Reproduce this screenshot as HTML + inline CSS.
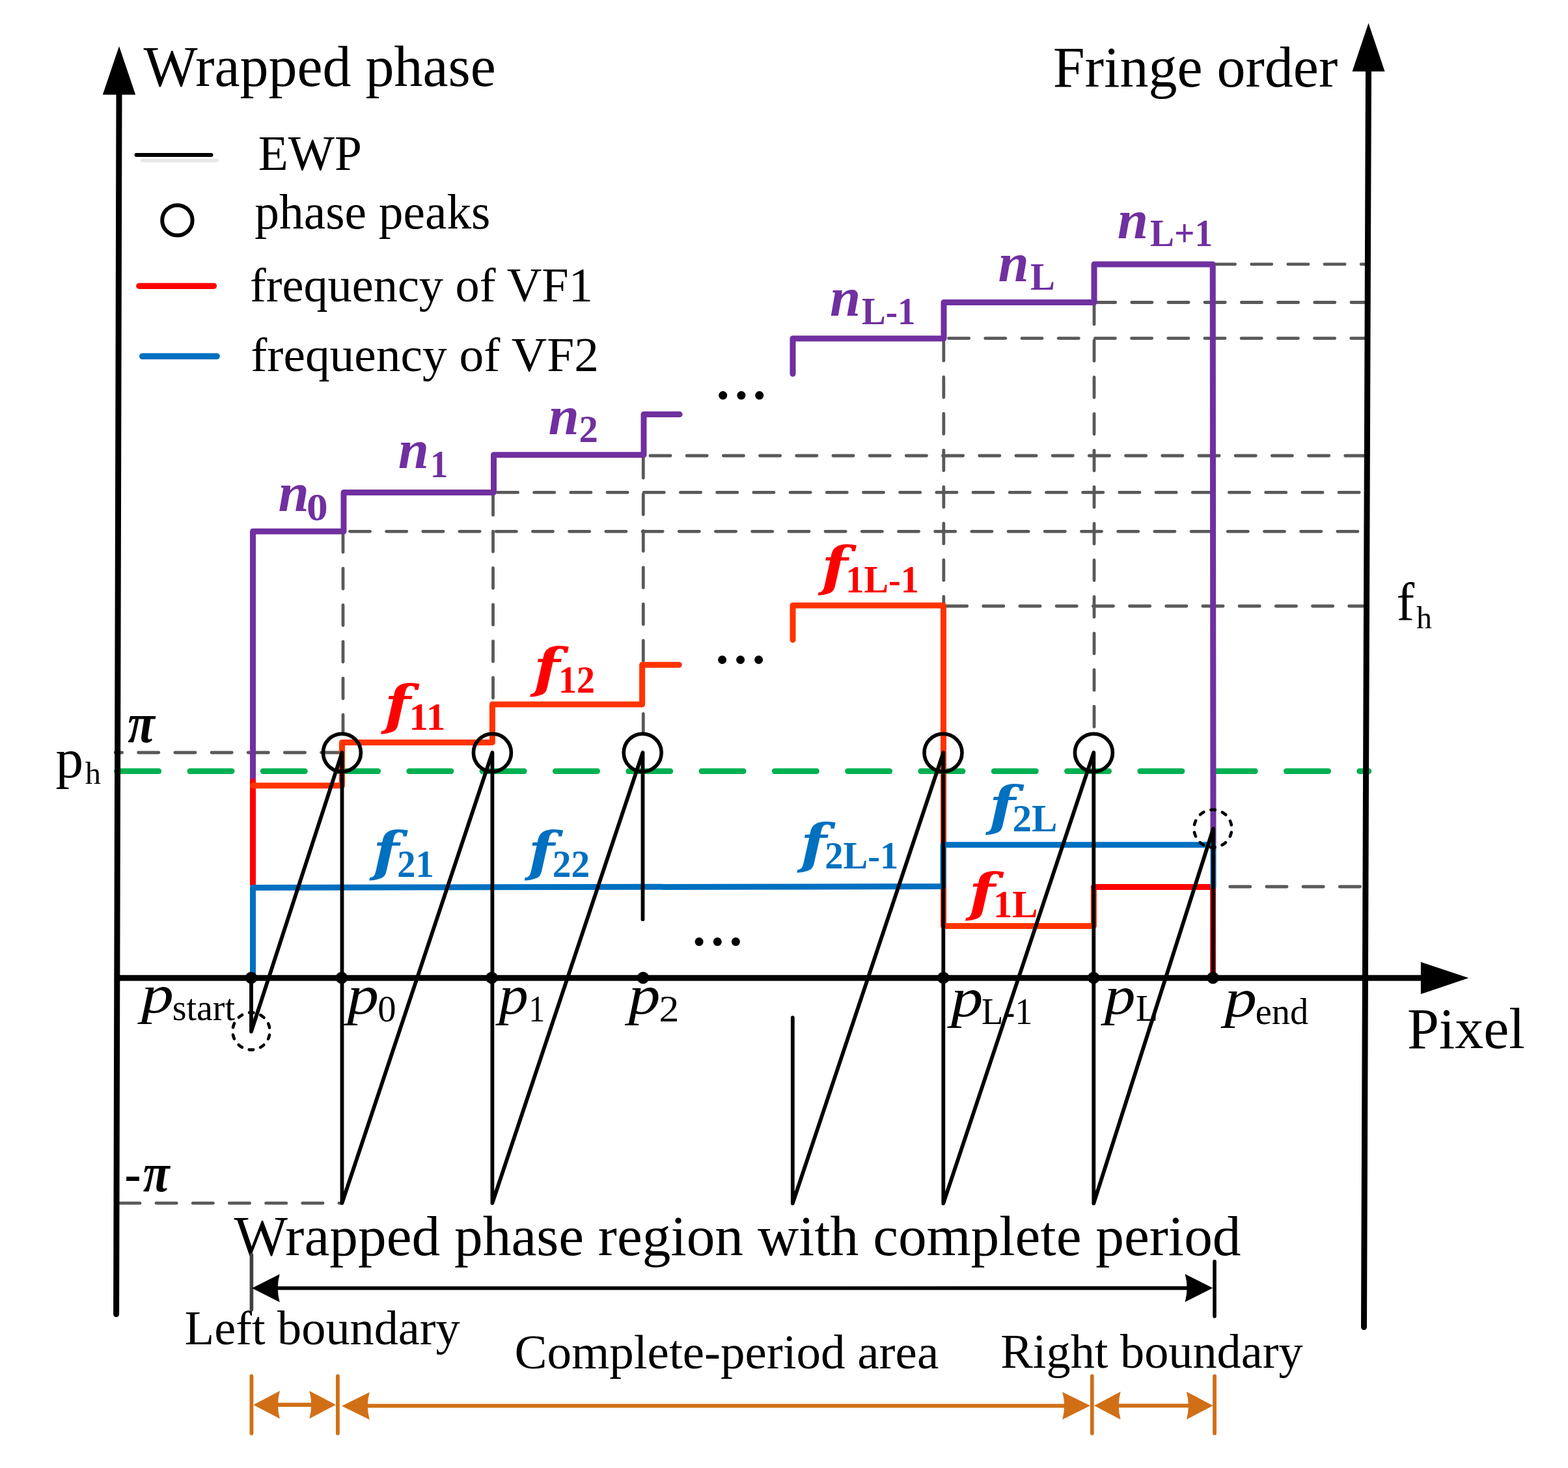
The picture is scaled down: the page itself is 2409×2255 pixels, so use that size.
<!DOCTYPE html>
<html><head><meta charset="utf-8"><title>Wrapped phase diagram</title>
<style>html,body{margin:0;padding:0;background:#fff;overflow:hidden;}svg{display:block;}</style></head>
<body><svg width="2409" height="2255" viewBox="0 0 2409 2255">
<rect width="2409" height="2255" fill="#fff"/>
<line x1="1866.4" y1="405.8" x2="2097.0" y2="405.8" stroke="#595959" stroke-width="4.8" stroke-linecap="round" stroke-dasharray="31.2 25"/>
<line x1="1682.5" y1="464.5" x2="2097.0" y2="464.5" stroke="#595959" stroke-width="4.8" stroke-linecap="round" stroke-dasharray="31.2 25"/>
<line x1="1457.5" y1="519.6" x2="2097.0" y2="519.6" stroke="#595959" stroke-width="4.8" stroke-linecap="round" stroke-dasharray="31.2 25"/>
<line x1="998.9" y1="700.0" x2="2097.0" y2="700.0" stroke="#595959" stroke-width="4.8" stroke-linecap="round" stroke-dasharray="31.2 25"/>
<line x1="764.4" y1="756.4" x2="2097.0" y2="756.4" stroke="#595959" stroke-width="4.8" stroke-linecap="round" stroke-dasharray="31.2 25"/>
<line x1="537.4" y1="816.3" x2="2097.0" y2="816.3" stroke="#595959" stroke-width="4.8" stroke-linecap="round" stroke-dasharray="31.2 25"/>
<line x1="1454.5" y1="931.0" x2="2097.0" y2="931.0" stroke="#595959" stroke-width="4.8" stroke-linecap="round" stroke-dasharray="31.2 25"/>
<line x1="1889.7" y1="1362.0" x2="2097.0" y2="1362.0" stroke="#595959" stroke-width="4.8" stroke-linecap="round" stroke-dasharray="31.2 25"/>
<line x1="524.8" y1="1156.0" x2="177.0" y2="1156.0" stroke="#595959" stroke-width="4.8" stroke-linecap="round" stroke-dasharray="31.2 25"/>
<line x1="183.8" y1="1848.2" x2="524.7" y2="1848.2" stroke="#595959" stroke-width="4.8" stroke-linecap="round" stroke-dasharray="31.2 25"/>
<line x1="527.0" y1="817.0" x2="527.0" y2="1125.0" stroke="#595959" stroke-width="4.8" stroke-linecap="round" stroke-dasharray="31.2 25"/>
<line x1="757.5" y1="760.0" x2="757.5" y2="1075.0" stroke="#595959" stroke-width="4.8" stroke-linecap="round" stroke-dasharray="31.2 25"/>
<line x1="988.3" y1="703.0" x2="988.3" y2="1126.0" stroke="#595959" stroke-width="4.8" stroke-linecap="round" stroke-dasharray="31.2 25"/>
<line x1="1449.8" y1="523.0" x2="1449.8" y2="927.0" stroke="#595959" stroke-width="4.8" stroke-linecap="round" stroke-dasharray="31.2 25"/>
<line x1="1681.0" y1="467.0" x2="1681.0" y2="1125.0" stroke="#595959" stroke-width="4.8" stroke-linecap="round" stroke-dasharray="31.2 25"/>
<line x1="179.4" y1="1184.6" x2="2103.0" y2="1184.6" stroke="#00B050" stroke-width="8.6" stroke-linecap="round" stroke-dasharray="64.5 47.8"/>
<path d="M388.5,1200 L388.5,816.3 L528,816.3 L528,756.4 L758.5,756.4 L758.5,698.8 L989,698.8 L989,636.5 L1044.1,636.5" stroke="#7030A0" stroke-width="9" fill="none" stroke-linejoin="round" stroke-linecap="round"/>
<path d="M1218,574.2 L1218,520 L1450,520 L1450,464.5 L1681,464.5 L1681,406 L1863.2,406 L1864,1295" stroke="#7030A0" stroke-width="9" fill="none" stroke-linejoin="round" stroke-linecap="round"/>
<line x1="388.5" y1="1200.0" x2="388.5" y2="1359.0" stroke="#FF0000" stroke-width="9" stroke-linecap="round"/>
<path d="M388.5,1206.7 L525.5,1206.7 L525.5,1140.4 L756.4,1140.4 L756.4,1082 L986.6,1082 L986.6,1021.3 L1043.3,1021.3" stroke="#FF3300" stroke-width="9" fill="none" stroke-linejoin="round" stroke-linecap="round"/>
<path d="M1218,982.9 L1218,930 L1449.5,930 L1449.5,1422.4 L1680.4,1422.4 L1680.4,1362.5" stroke="#FF3300" stroke-width="9" fill="none" stroke-linejoin="round" stroke-linecap="round"/>
<path d="M1680.4,1362.5 L1863.6,1362.5 L1863.6,1502" stroke="#FF0000" stroke-width="9" fill="none" stroke-linejoin="round" stroke-linecap="round"/>
<path d="M388.5,1502 L388.5,1363.5 L1449,1361.6 L1449,1297.7 L1864,1297.7 L1864,1362" stroke="#0070C0" stroke-width="9" fill="none" stroke-linejoin="round" stroke-linecap="round"/>
<line x1="183.0" y1="140.0" x2="178.6" y2="2018.8" stroke="#000" stroke-width="9" stroke-linecap="round"/>
<polygon points="183.0,71.0 157.8,145.5 208.2,145.5" fill="#000"/>
<line x1="2102.5" y1="105.0" x2="2095.5" y2="2038.5" stroke="#000" stroke-width="9" stroke-linecap="round"/>
<polygon points="2102.5,35.4 2077.5,109.8 2127.5,109.8" fill="#000"/>
<line x1="179.5" y1="1502.3" x2="2190.0" y2="1502.3" stroke="#000" stroke-width="9" stroke-linecap="butt"/>
<polygon points="2256.4,1502.3 2182.9,1477.8 2182.9,1527.1" fill="#000"/>
<path d="M386,1502 L386,1584.5 L525.5,1156 L525.5,1848 L756.4,1156 L756.4,1848 L987.5,1156 L987.5,1412.2" stroke="#000" stroke-width="5.8" fill="none" stroke-linejoin="round" stroke-linecap="round"/>
<path d="M1217.8,1563.2 L1217.8,1848.5 L1449.3,1156 L1449.3,1848.5 L1680.3,1156 L1680.3,1848.5 L1864,1273 L1863.8,1502" stroke="#000" stroke-width="5.8" fill="none" stroke-linejoin="round" stroke-linecap="round"/>
<circle cx="386.0" cy="1502.0" r="9.3" fill="#000"/>
<circle cx="525.0" cy="1502.0" r="9.3" fill="#000"/>
<circle cx="755.5" cy="1502.0" r="9.3" fill="#000"/>
<circle cx="988.0" cy="1502.0" r="9.3" fill="#000"/>
<circle cx="1449.3" cy="1502.0" r="9.3" fill="#000"/>
<circle cx="1680.2" cy="1502.0" r="9.3" fill="#000"/>
<circle cx="1863.5" cy="1502.0" r="9.3" fill="#000"/>
<circle cx="525.4" cy="1156.2" r="29.0" fill="none" stroke="#000" stroke-width="5.6"/>
<circle cx="756.4" cy="1156.2" r="29.0" fill="none" stroke="#000" stroke-width="5.6"/>
<circle cx="987.2" cy="1156.2" r="29.0" fill="none" stroke="#000" stroke-width="5.6"/>
<circle cx="1449.0" cy="1156.2" r="29.0" fill="none" stroke="#000" stroke-width="5.6"/>
<circle cx="1680.4" cy="1156.2" r="29.0" fill="none" stroke="#000" stroke-width="5.6"/>
<circle cx="386.0" cy="1584.0" r="28.6" fill="none" stroke="#000" stroke-width="4.6" stroke-dasharray="6.5 11.47" stroke-linecap="round" stroke-dashoffset="12.24"/>
<circle cx="1863.4" cy="1272.8" r="29.0" fill="none" stroke="#000" stroke-width="4.6" stroke-dasharray="6.5 11.72" stroke-linecap="round" stroke-dashoffset="12.36"/>
<circle cx="1110.7" cy="607.3" r="6.5" fill="#000"/>
<circle cx="1138.9" cy="607.3" r="6.5" fill="#000"/>
<circle cx="1166.7" cy="607.3" r="6.5" fill="#000"/>
<circle cx="1109.6" cy="1013.5" r="6.5" fill="#000"/>
<circle cx="1137.6" cy="1013.5" r="6.5" fill="#000"/>
<circle cx="1165.6" cy="1013.5" r="6.5" fill="#000"/>
<circle cx="1074.1" cy="1446.6" r="6.5" fill="#000"/>
<circle cx="1102.3" cy="1446.6" r="6.5" fill="#000"/>
<circle cx="1130.4" cy="1446.6" r="6.5" fill="#000"/>
<line x1="218.8" y1="246.8" x2="333.0" y2="246.8" stroke="#E8E8E8" stroke-width="5.4" stroke-linecap="round"/>
<line x1="209.5" y1="238.0" x2="324.5" y2="238.0" stroke="#000" stroke-width="5.9" stroke-linecap="round"/>
<circle cx="272.4" cy="338.4" r="23.2" fill="none" stroke="#000" stroke-width="6"/>
<line x1="213.8" y1="439.3" x2="328.5" y2="439.3" stroke="#FF0000" stroke-width="9.3" stroke-linecap="round"/>
<line x1="218.7" y1="547.3" x2="333.1" y2="547.3" stroke="#0070C0" stroke-width="9.6" stroke-linecap="round"/>
<text x="396.8" y="260.6" font-family="Liberation Serif, serif" font-size="75.40">EWP</text>
<text x="391.3" y="351.2" font-family="Liberation Serif, serif" font-size="75.40">phase peaks</text>
<text x="384.0" y="463.4" font-family="Liberation Serif, serif" font-size="74.30">frequency of VF1</text>
<text transform="translate(385.2,569.6) scale(1.015,1)" font-family="Liberation Serif, serif" font-size="74.30">frequency of VF2</text>
<text x="220.6" y="132.0" font-family="Liberation Serif, serif" font-size="88.00">Wrapped phase</text>
<text x="1617.8" y="132.6" font-family="Liberation Serif, serif" font-size="88.00">Fringe order</text>
<text x="2161.9" y="1610.4" font-family="Liberation Serif, serif" font-size="88.00">Pixel</text>
<text x="359.4" y="1928.2" font-family="Liberation Serif, serif" font-size="87.40">Wrapped phase region with complete period</text>
<text x="283.8" y="2065.2" font-family="Liberation Serif, serif" font-size="74.30">Left boundary</text>
<text x="790.4" y="2101.5" font-family="Liberation Serif, serif" font-size="75.00">Complete-period area</text>
<text x="1537.3" y="2101.0" font-family="Liberation Serif, serif" font-size="74.30">Right boundary</text>
<line x1="386.4" y1="1927.5" x2="386.4" y2="2011.8" stroke="#404040" stroke-width="5.6" stroke-linecap="round"/>
<line x1="1866.0" y1="1937.8" x2="1866.0" y2="2022.0" stroke="#000" stroke-width="5.6" stroke-linecap="round"/>
<line x1="420.0" y1="1978.8" x2="1830.0" y2="1978.6" stroke="#000" stroke-width="5.6" stroke-linecap="butt"/>
<path d="M387.1,1978.8 L429.7,1957.3 Q423.8,1978.8 429.7,2000.3 Z" fill="#000"/>
<path d="M1863.2,1978.5 L1820.6,1957.0 Q1826.5,1978.5 1820.6,2000.0 Z" fill="#000"/>
<line x1="386.4" y1="2114.0" x2="386.4" y2="2201.7" stroke="#D16F17" stroke-width="5.8" stroke-linecap="round"/>
<line x1="518.9" y1="2114.0" x2="518.9" y2="2201.7" stroke="#D16F17" stroke-width="5.8" stroke-linecap="round"/>
<line x1="1677.8" y1="2114.0" x2="1677.8" y2="2201.7" stroke="#D16F17" stroke-width="5.8" stroke-linecap="round"/>
<line x1="1866.0" y1="2114.0" x2="1866.0" y2="2201.7" stroke="#D16F17" stroke-width="5.8" stroke-linecap="round"/>
<line x1="420.0" y1="2157.9" x2="485.0" y2="2157.9" stroke="#D16F17" stroke-width="6.1" stroke-linecap="butt"/>
<path d="M389.3,2157.9 L429.9,2136.5 Q424.0,2157.9 429.9,2179.3 Z" fill="#D16F17"/>
<path d="M516.0,2157.9 L475.3,2136.5 Q481.2,2157.9 475.3,2179.3 Z" fill="#D16F17"/>
<line x1="560.0" y1="2159.5" x2="1640.0" y2="2159.5" stroke="#D16F17" stroke-width="6.1" stroke-linecap="butt"/>
<path d="M525.0,2159.7 L567.8,2138.6 Q561.9,2159.7 567.8,2180.8 Z" fill="#D16F17"/>
<path d="M1675.0,2159.3 L1632.2,2138.2 Q1638.1,2159.3 1632.2,2180.4 Z" fill="#D16F17"/>
<line x1="1715.0" y1="2159.2" x2="1830.0" y2="2159.2" stroke="#D16F17" stroke-width="6.1" stroke-linecap="butt"/>
<path d="M1681.0,2159.2 L1721.6,2137.8 Q1715.7,2159.2 1721.6,2180.6 Z" fill="#D16F17"/>
<path d="M1863.5,2159.2 L1822.9,2137.8 Q1828.8,2159.2 1822.9,2180.6 Z" fill="#D16F17"/>
<text transform="translate(196.2,1139.9) scale(0.885,1)" font-family="Liberation Serif, serif" font-size="85.71" font-weight="bold" font-style="italic">π</text>
<text x="191.3" y="1828.5" font-family="Liberation Serif, serif" font-size="76.47" font-weight="bold">-</text>
<text transform="translate(219.7,1830.0) scale(0.880,1)" font-family="Liberation Serif, serif" font-size="84.86" font-weight="bold" font-style="italic">π</text>
<text x="85.6" y="1194.0" font-family="Liberation Serif, serif" font-size="85.23">p</text>
<text x="130.8" y="1204.2" font-family="Liberation Serif, serif" font-size="48.56">h</text>
<text x="2145.4" y="952.9" font-family="Liberation Serif, serif" font-size="82.81">f</text>
<text x="2175.9" y="964.5" font-family="Liberation Serif, serif" font-size="47.98">h</text>
<text x="427.4" y="785.3" font-family="Liberation Serif, serif" font-size="85.00" font-weight="bold" font-style="italic" fill="#7030A0">n</text>
<text transform="translate(471.1,798.7) scale(1.120,1)" font-family="Liberation Serif, serif" font-size="58.50" font-weight="bold" fill="#7030A0">0</text>
<text x="611.8" y="719.4" font-family="Liberation Serif, serif" font-size="85.00" font-weight="bold" font-style="italic" fill="#7030A0">n</text>
<text transform="translate(661.0,732.5) scale(0.934,1)" font-family="Liberation Serif, serif" font-size="58.50" font-weight="bold" fill="#7030A0">1</text>
<text x="842.5" y="667.1" font-family="Liberation Serif, serif" font-size="85.00" font-weight="bold" font-style="italic" fill="#7030A0">n</text>
<text transform="translate(889.6,678.9) scale(1.005,1)" font-family="Liberation Serif, serif" font-size="58.50" font-weight="bold" fill="#7030A0">2</text>
<text x="1275.0" y="485.1" font-family="Liberation Serif, serif" font-size="85.00" font-weight="bold" font-style="italic" fill="#7030A0">n</text>
<text transform="translate(1324.1,498.1) scale(0.940,1)" font-family="Liberation Serif, serif" font-size="58.50" font-weight="bold" fill="#7030A0">L-1</text>
<text x="1533.5" y="432.0" font-family="Liberation Serif, serif" font-size="85.00" font-weight="bold" font-style="italic" fill="#7030A0">n</text>
<text transform="translate(1583.0,445.0) scale(0.970,1)" font-family="Liberation Serif, serif" font-size="58.50" font-weight="bold" fill="#7030A0">L</text>
<text x="1716.8" y="366.3" font-family="Liberation Serif, serif" font-size="85.00" font-weight="bold" font-style="italic" fill="#7030A0">n</text>
<text transform="translate(1767.1,378.0) scale(0.945,1)" font-family="Liberation Serif, serif" font-size="58.50" font-weight="bold" fill="#7030A0">L+1</text>
<text transform="translate(590.5,1112.4) scale(1.148,1)" font-family="DejaVu Serif, serif" font-size="82.00" font-weight="bold" font-style="italic" fill="#FF0000">f</text>
<text transform="translate(628.4,1121.4) scale(1.011,1)" font-family="Liberation Serif, serif" font-size="58.50" font-weight="bold" fill="#FF0000">11</text>
<text transform="translate(819.8,1054.6) scale(1.144,1)" font-family="DejaVu Serif, serif" font-size="82.32" font-weight="bold" font-style="italic" fill="#FF0000">f</text>
<text transform="translate(858.1,1063.8) scale(0.955,1)" font-family="Liberation Serif, serif" font-size="58.50" font-weight="bold" fill="#FF0000">12</text>
<text transform="translate(1261.9,899.3) scale(1.142,1)" font-family="DejaVu Serif, serif" font-size="82.42" font-weight="bold" font-style="italic" fill="#FF0000">f</text>
<text transform="translate(1299.3,909.5) scale(0.963,1)" font-family="Liberation Serif, serif" font-size="58.50" font-weight="bold" fill="#FF0000">1L-1</text>
<text transform="translate(1488.5,1399.0) scale(1.163,1)" font-family="DejaVu Serif, serif" font-size="80.95" font-weight="bold" font-style="italic" fill="#FF0000">f</text>
<text transform="translate(1525.9,1409.3) scale(1.003,1)" font-family="Liberation Serif, serif" font-size="58.50" font-weight="bold" fill="#FF0000">1L</text>
<text transform="translate(572.8,1337.2) scale(1.149,1)" font-family="DejaVu Serif, serif" font-size="81.89" font-weight="bold" font-style="italic" fill="#0070C0">f</text>
<text transform="translate(610.2,1347.4) scale(0.964,1)" font-family="Liberation Serif, serif" font-size="58.50" font-weight="bold" fill="#0070C0">21</text>
<text transform="translate(811.3,1337.2) scale(1.149,1)" font-family="DejaVu Serif, serif" font-size="81.89" font-weight="bold" font-style="italic" fill="#0070C0">f</text>
<text transform="translate(848.7,1347.4) scale(0.981,1)" font-family="Liberation Serif, serif" font-size="58.50" font-weight="bold" fill="#0070C0">22</text>
<text transform="translate(1229.7,1324.9) scale(1.154,1)" font-family="DejaVu Serif, serif" font-size="81.58" font-weight="bold" font-style="italic" fill="#0070C0">f</text>
<text transform="translate(1267.3,1334.1) scale(0.966,1)" font-family="Liberation Serif, serif" font-size="58.50" font-weight="bold" fill="#0070C0">2L-1</text>
<text transform="translate(1519.6,1267.0) scale(1.151,1)" font-family="DejaVu Serif, serif" font-size="81.79" font-weight="bold" font-style="italic" fill="#0070C0">f</text>
<text transform="translate(1555.5,1276.6) scale(1.009,1)" font-family="Liberation Serif, serif" font-size="58.50" font-weight="bold" fill="#0070C0">2L</text>
<text transform="translate(216.9,1555.3) scale(1.200,1)" font-family="Liberation Serif, serif" font-size="83.19" font-style="italic">p</text>
<text transform="translate(264.7,1567.4) scale(0.982,1)" font-family="Liberation Serif, serif" font-size="57.00">start</text>
<text transform="translate(533.4,1556.5) scale(1.158,1)" font-family="Liberation Serif, serif" font-size="83.77" font-style="italic">p</text>
<text transform="translate(580.2,1568.6) scale(0.993,1)" font-family="Liberation Serif, serif" font-size="57.00">0</text>
<text transform="translate(766.5,1556.5) scale(1.079,1)" font-family="Liberation Serif, serif" font-size="83.77" font-style="italic">p</text>
<text transform="translate(812.3,1569.0) scale(0.880,1)" font-family="Liberation Serif, serif" font-size="57.00">1</text>
<text transform="translate(965.6,1556.8) scale(1.167,1)" font-family="Liberation Serif, serif" font-size="83.92" font-style="italic">p</text>
<text transform="translate(1012.4,1568.9) scale(1.081,1)" font-family="Liberation Serif, serif" font-size="57.00">2</text>
<text transform="translate(1460.9,1560.9) scale(1.170,1)" font-family="Liberation Serif, serif" font-size="84.36" font-style="italic">p</text>
<text transform="translate(1507.9,1572.6) scale(0.957,1)" font-family="Liberation Serif, serif" font-size="57.00">L-1</text>
<text transform="translate(1696.7,1556.7) scale(1.156,1)" font-family="Liberation Serif, serif" font-size="82.60" font-style="italic">p</text>
<text transform="translate(1745.1,1568.3) scale(0.978,1)" font-family="Liberation Serif, serif" font-size="57.00">L</text>
<text transform="translate(1881.3,1561.3) scale(1.195,1)" font-family="Liberation Serif, serif" font-size="83.19" font-style="italic">p</text>
<text transform="translate(1928.8,1573.4) scale(0.991,1)" font-family="Liberation Serif, serif" font-size="57.00">end</text>
</svg></body></html>
